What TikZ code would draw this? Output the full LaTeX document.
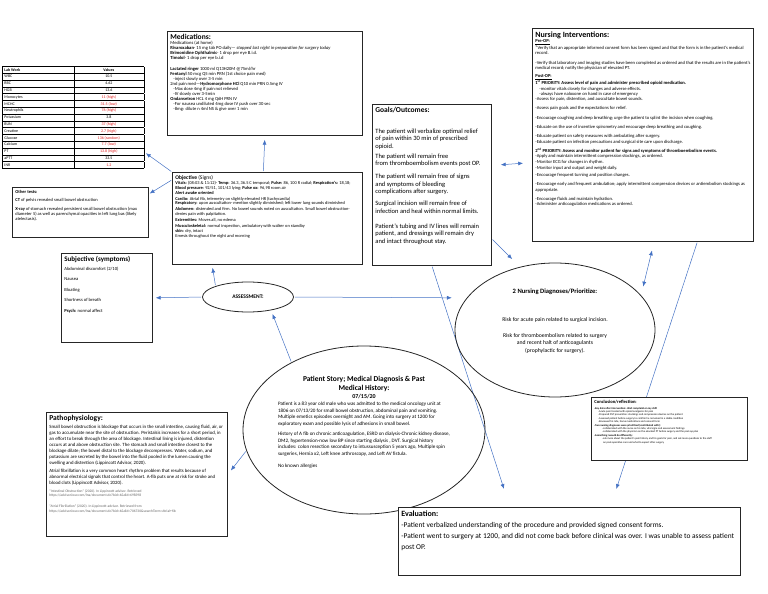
\documentclass[tikz,border=0pt]{standalone}
\usepackage{fontspec}
\setmainfont{Carlito}
\usepackage{array}
\usetikzlibrary{arrows.meta,shapes.geometric,backgrounds}

\definecolor{linkblue}{HTML}{4472C4}
\definecolor{labred}{HTML}{E02020}

\newcommand{\fsz}[2]{\fontsize{#1}{#2}\selectfont}
\newcommand{\fixbox}[3]{\parbox[t][#2][t]{#1}{\raggedright #3}}
\newcommand{\zerobox}[3]{\setbox0=\hbox{\parbox{#1}{#3}}\ht0=0pt \dp0=0pt \hbox to 0pt{\hss\lower#2\box0\hss}}
\newcommand{\hi}[1]{\textcolor{labred}{#1}}

\begin{document}
\begin{tikzpicture}[x=1pt,y=-1pt,
 box/.style={draw=black!85,line width=0.8pt,fill=white,inner sep=3pt,anchor=north west},
 oval/.style={ellipse,draw=black!85,line width=0.8pt,inner sep=0pt},
 link/.style={-{Latex[length=1.7mm,width=1.4mm]},draw=linkblue,line width=0.5pt,shorten >=3pt,shorten <=1pt},
 twoway/.style={{Latex[length=1.7mm,width=1.4mm]}-{Latex[length=1.7mm,width=1.4mm]},draw=linkblue,line width=0.5pt,shorten >=9pt,shorten <=9pt}
]
\useasboundingbox (0,0) rectangle (768,594);

% lab values
\node[anchor=north west,inner sep=0pt] (labs) at (2,66) {\fsz{4}{5}\renewcommand\arraystretch{1.3}\setlength\tabcolsep{2pt}\setlength\arrayrulewidth{0.3pt}%
\begin{tabular}{|p{67pt}|>{\centering\arraybackslash}p{66pt}|}\hline
\textbf{Lab Work} & \textbf{Values}\\\hline
WBC & 10.5\\\hline
RBC & 4.62\\\hline
HGB & 13.6\\\hline
Monocytes & \hi{11 (high)}\\\hline
MCHC & \hi{31.5 (low)}\\\hline
Neutrophils & \hi{76 (high)}\\\hline
Potassium & 3.8\\\hline
BUN & \hi{37 (high)}\\\hline
Creatine & \hi{2.7 (high)}\\\hline
Glucose & \hi{136 (random)}\\\hline
Calcium & \hi{7.7 (low)}\\\hline
PT & \hi{13.8 (high)}\\\hline
aPTT & 33.5\\\hline
INR & \hi{1.2}\\\hline
\end{tabular}};

\node[box] (ot) at (12,187) {\fixbox{130pt}{44pt}{\fsz{4.5}{5.3}\textbf{Other tests:}\par\vspace{3pt}
\textbf{CT} of pelvis revealed small bowel obstruction\par\vspace{3pt}
\textbf{X-ray} of stomach revealed persistent small bowel obstruction (max diameter 5) as well as parenchymal opacities in left lung bas (likely atelectasis).}};

\node[box] (subj) at (61,253) {\fixbox{85pt}{83pt}{\fsz{7}{8}\textbf{Subjective (symptoms)}\par\vspace{3pt}\fsz{4.6}{5.5}
Abdominal discomfort (2/10)\par\vspace{5pt}
Nausea\par\vspace{5pt}
Bloating\par\vspace{5pt}
Shortness of breath\par\vspace{5pt}
\textbf{Psych:} normal affect}};

\node[box] (meds) at (167,31) {\fixbox{189pt}{98pt}{\fsz{7.5}{9}\textbf{Medications:}\par\fsz{4.6}{5}
Medications (at home)\par
\textbf{Rivaroxaban}- 15 mg tab PO daily--- \textit{stopped last night in preparation for surgery today}\par
\textbf{Brimonidine Ophthalmic}- 1 drop per eye B.i.d.\par
\textbf{Timolol}- 1 drop per eye b.i.d\par\vspace{6pt}
\textbf{Lactated ringer} 1000 ml Q13H20M @75ml/hr\par
\textbf{Fentanyl} 50 mcg Q5 min PRN (1st choice pain med)\par
\hspace*{3pt}-inject slowly over 3-5 min\par
2nd pain med---\textbf{Hydromorphone HCl} Q10 min PRN 0.5mg IV\par
\hspace*{3pt}-Max dose 4mg if pain not relieved\par
\hspace*{3pt}-IV slowly over 3-5min\par
\textbf{Ondansetron} HCL 4 mg Q6H PRN IV\par
\hspace*{3pt}-For nausea undiluted 4mg dose IV push over 30 sec\par
\hspace*{3pt}-8mg: dilute n 4ml NS \& give over 1 min}};

\node[box] (obj) at (172,172) {\fixbox{184pt}{86pt}{\fsz{5.5}{6.5}\textbf{Objective} (Signs)\par\fsz{4.4}{4.9}
\textbf{Vitals:} (08:03 \& 11:12)- \textbf{Temp:} 36.3, 36.5 C temporal; \textbf{Pulse:} 86, 100 R radial; \textbf{Respiration's:} 18,18; \textbf{Blood pressure:} 92/51, 101/43 lying; \textbf{Pulse ox:} 96,98 room air\par
\textbf{Alert awake oriented}\par\vspace{1pt}
\textbf{Cardio:} Atrial fib, telemetry on slightly elevated HR (tachycardia)\par
\textbf{Respiratory:} upon auscultation- mention slightly diminished; left lower lung sounds diminished\par\vspace{1pt}
\textbf{Abdomen:} distended and firm. No bowel sounds noted on auscultation. Small bowel obstruction- denies pain with palpitation.\par\vspace{1pt}
\textbf{Extremities:} Moves all, no edema\par\vspace{1pt}
\textbf{Musculoskeletal:} normal inspection, ambulatory with walker on standby\par
\textbf{skin:} dry, intact\par
Emesis throughout the night and morning}};

\node[oval,minimum width=91pt,minimum height=30pt] (asmt) at (248,297) {\fsz{5.5}{6.5}\textbf{ASSESSMENT:}};

\node[box] (patho) at (46,412) {\fixbox{175pt}{118pt}{\fsz{7.5}{9}\textbf{Pathophysiology:}\par\vspace{2pt}\fsz{4.8}{6}
Small bowel obstruction is blockage that occurs in the small intestine, causing fluid, air, or gas to accumulate near the site of obstruction. Peristalsis increases for a short period, in an effort to break through the area of blockage. Intestinal lining is injured, distention occurs at and above obstruction site. The stomach and small intestine closest to the blockage dilate; the bowel distal to the blockage decompresses. Water, sodium, and potassium are secreted by the bowel into the fluid pooled in the lumen causing the swelling and distention (Lippincott Advisor, 2020).\par\vspace{2pt}
Atrial fibrillation is a very common heart rhythm problem that results because of abnormal electrical signals that control the heart. A-fib puts one at risk for stroke and blood clots (Lippincott Advisor, 2020).\par\vspace{3pt}
\fsz{3.6}{4.4}\color{black!60}``Intestinal Obstruction'' (2020). In Lippincott advisor. Retrieved https://advisor.lww.com/lna/document.do?bid=4\&did=698398\par\vspace{7pt}
``Atrial Fibrillation'' (2020). In Lippincott advisor. Retrieved from https://advisor.lww.com/lna/document.do?bid=4\&did=706730\&searchTerm=Atrial+fib}};

\node[oval,minimum width=242pt,minimum height=168pt] (story) at (364,430) {\zerobox{172pt}{-10pt}{\centering\fsz{7.5}{9.2}\textbf{Patient Story; Medical Diagnosis \& Past}\\\textbf{Medical History:}\par
\fsz{6}{7.8}\textbf{07/15/20}\par\vspace{1pt}\raggedright\fsz{5.1}{6.5}
Patient is a 83 year old male who was admitted to the medical oncology unit at 1806 on 07/13/20 for small bowel obstruction, abdominal pain and vomiting. Multiple emetics episodes overnight and AM. Going into surgery at 1200 for exploratory exam and possible lysis of adhesions in small bowel.\par\vspace{4pt}
History of A fib on chronic anticoagulation, ESRD on dialysis-Chronic kidney disease, DM2, hypertension-now low BP since starting dialysis , DVT. Surgical history includes: colon resection secondary to intussusception 5 years ago, Multiple spin surgeries, Hernia x2, Left knee arthroscopy, and Left AV fistula.\par\vspace{6pt}
No known allergies}};

\node[box] (goals) at (372,104) {\fixbox{113pt}{155pt}{\fsz{7.5}{8.5}\textbf{Goals/Outcomes:}\par\vspace{13pt}\fsz{6.5}{7.5}
\parbox[t]{105pt}{\raggedright
The patient will verbalize optimal relief of pain within 30 min of prescribed opioid.\par\vspace{2.5pt}
The patient will remain free\\from thromboembolism events post OP.\par\vspace{5.5pt}
The patient will remain free of signs and symptoms of bleeding complications after surgery.\par\vspace{4.5pt}
Surgical incision will remain free of infection and heal within normal limits.\par\vspace{7.5pt}
Patient's tubing and IV lines will remain patient, and dressings will remain dry and intact throughout stay.}}};

\node[box] (ni) at (532,28) {\fixbox{215pt}{207pt}{\fsz{8}{9}\textbf{Nursing Interventions:}\par\fsz{4.6}{5.3}
\textbf{\underline{Pre-OP:}}\par
\textsuperscript{1}Verify that an appropriate informed consent form has been signed and that the form is in the patient's medical record.\par\vspace{4pt}
-Verify that laboratory and imaging studies have been completed as ordered and that the results are in the patient's medical record; notify the physician of elevated PT.\par\vspace{3pt}
\textbf{\underline{Post-OP:}}\par
\textbf{1\textsuperscript{st} PRIORITY: Assess level of pain and administer prescribed opioid medication.}\par
\hspace*{4pt}-monitor vitals closely for changes and adverse effects.\par
\hspace*{4pt}-always have naloxone on hand in case of emergency\par
-Assess for pain, distention, and auscultate bowel sounds.\par\vspace{4pt}
-Assess pain goals and the expectations for relief.\par\vspace{4pt}
-Encourage coughing and deep breathing; urge the patient to splint the incision when coughing.\par\vspace{4pt}
-Educate on the use of incentive spirometry and encourage deep breathing and coughing.\par\vspace{4pt}
-Educate patient on safety measures with ambulating after surgery.\par
-Educate patient on infection precautions and surgical site care upon discharge.\par\vspace{4pt}
\textbf{2\textsuperscript{nd} PRIORITY: Assess and monitor patient for signs and symptoms of thromboembolism events.}\par
-Apply and maintain intermittent compression stockings, as ordered.\par
-Monitor ECG for changes in rhythm.\par\vspace{1.5pt}
-Monitor input and output and weight daily.\par\vspace{1.5pt}
-Encourage frequent turning and position changes.\par\vspace{4pt}
-Encourage early and frequent ambulation; apply intermittent compression devices or antiembolism stockings as appropriate.\par\vspace{4pt}
-Encourage fluids and maintain hydration.\par
-Administer anticoagulation medications as ordered.}};

\node[oval,minimum width=200pt,minimum height=134pt] (nd) at (555,330) {\zerobox{180pt}{-13pt}{\centering\fsz{6.6}{8}\textbf{2 Nursing Diagnoses/Prioritize:}\par\vspace{20pt}\fsz{5.7}{7.5}
Risk for acute pain related to surgical incision.\par\vspace{8.5pt}
Risk for thromboembolism related to surgery\\and recent halt of anticoagulants\\(prophylactic for surgery).}};

\node[box] (concl) at (591,397) {\fixbox{150pt}{57pt}{\fsz{4.6}{5.5}\textbf{Conclusion/reflection:}\par\vspace{2pt}\fsz{2.7}{3.4}
\textbf{-Key data after intervention: chief complaint on my shift}\par
\hspace*{4pt}-Acute pain treated with opioid analgesics for pain\par
\hspace*{4pt}-Prepared DVT prevention: stockings and compression devices on the patient\par
\hspace*{4pt}-Assessed patient before surgery to confirm he remained in a stable condition\par
\hspace*{4pt}-Reviewed his labs, home medications and consent form\par
\textbf{-Two nursing diagnoses were prioritized (contributed with):}\par
\hspace*{8pt}-collaborated with the nurse on his labs, vital signs and assessment findings\par
\hspace*{8pt}-collaborated with the physician on the elevated PT before surgery and the post-op plan\par
\textbf{-Something I would do differently:}\par
\hspace*{8pt}-ask more about the patient's pain history and his goals for pain, and ask more questions to the staff\par
\hspace*{8pt}\phantom{-}on post-operative care and what to expect after surgery}};

\node[box] (eval) at (398,507) {\fixbox{336pt}{62pt}{\fsz{8}{9.5}\textbf{Evaluation:}\par\fsz{7.4}{11}
-Patient verbalized understanding of the procedure and provided signed consent forms.\par
-Patient went to surgery at 1200, and did not come back before clinical was over. I was unable to assess patient post OP.}};

% connectors
\begin{scope}[on background layer]
\draw[link,shorten >=4pt] (obj.95) -- (meds.south);
\draw[link,shorten >=2pt] (obj.north west) -- (labs.-26);
\draw[link,shorten >=1pt] (obj.158) -- (ot.15);
\draw[link] (asmt.north west) -- (obj.220);
\draw[link] (asmt.west) -- (subj.east);
\draw[link,shorten >=15pt] (asmt.east) -- (nd.160);
\draw[link,shorten >=11pt] (goals.-42) -- (nd.119);
\draw[twoway] (goals.18) -- (ni.194);
\draw[twoway] (ni.-84) -- (nd.22);
\draw[link,shorten >=19pt] (goals.south) -- (eval.150);
\draw[link,shorten >=19pt] (ni.-63) -- (eval.40);
\draw[link,shorten >=4pt] (story.137) -- (asmt.-30);
\draw[link,shorten >=5pt] (story.190) -- (patho.east);
\end{scope}
\end{tikzpicture}
\end{document}
